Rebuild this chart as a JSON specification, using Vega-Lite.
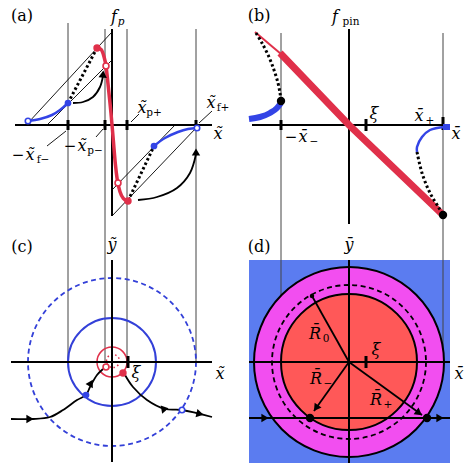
{
"$schema":"https://vega.github.io/schema/vega-lite/v6.json",
"width":474,"height":474,"padding":0,
"autosize":{"type":"fit","contains":"padding"},
"background":"white",
"config":{"view":{"stroke":null}},
"datasets":{
"R":[{"x":249,"y":260,"x2":450,"y2":463}],
"L":[
{"g":"gray","id":"v1","o":0,"x":68,"y":23},{"g":"gray","id":"v1","o":1,"x":68,"y":362},
{"g":"gray","id":"v2","o":0,"x":105,"y":29},{"g":"gray","id":"v2","o":1,"x":105,"y":362},
{"g":"gray","id":"v3","o":0,"x":127,"y":29},{"g":"gray","id":"v3","o":1,"x":127,"y":362},
{"g":"gray","id":"v4","o":0,"x":196,"y":29},{"g":"gray","id":"v4","o":1,"x":196,"y":362},
{"g":"gray","id":"v5","o":0,"x":281,"y":33},{"g":"gray","id":"v5","o":1,"x":281,"y":362},
{"g":"gray","id":"v6","o":0,"x":443,"y":33},{"g":"gray","id":"v6","o":1,"x":443,"y":362},
{"g":"axis","id":"a1","o":0,"x":15,"y":125},{"g":"axis","id":"a1","o":1,"x":212,"y":125},
{"g":"axis","id":"a2","o":0,"x":112,"y":29},{"g":"axis","id":"a2","o":1,"x":112,"y":216},
{"g":"axis","id":"b1","o":0,"x":252,"y":125},{"g":"axis","id":"b1","o":1,"x":450,"y":125},
{"g":"axis","id":"b2","o":0,"x":349,"y":29},{"g":"axis","id":"b2","o":1,"x":349,"y":224},
{"g":"axis","id":"c1","o":0,"x":11,"y":362},{"g":"axis","id":"c1","o":1,"x":212,"y":362},
{"g":"axis","id":"c2","o":0,"x":112,"y":260},{"g":"axis","id":"c2","o":1,"x":112,"y":462},
{"g":"axis","id":"d1","o":0,"x":249,"y":362},{"g":"axis","id":"d1","o":1,"x":450,"y":362},
{"g":"axis","id":"d2","o":0,"x":349,"y":260},{"g":"axis","id":"d2","o":1,"x":349,"y":463},
{"g":"tick","id":"t1","o":0,"x":68,"y":120},{"g":"tick","id":"t1","o":1,"x":68,"y":130},
{"g":"tick","id":"t2","o":0,"x":105,"y":120},{"g":"tick","id":"t2","o":1,"x":105,"y":130},
{"g":"tick","id":"t3","o":0,"x":127,"y":120},{"g":"tick","id":"t3","o":1,"x":127,"y":130},
{"g":"tick","id":"t4","o":0,"x":196,"y":120},{"g":"tick","id":"t4","o":1,"x":196,"y":130},
{"g":"tick","id":"t5","o":0,"x":281,"y":120},{"g":"tick","id":"t5","o":1,"x":281,"y":130},
{"g":"tick","id":"t6","o":0,"x":366,"y":119},{"g":"tick","id":"t6","o":1,"x":366,"y":131},
{"g":"tick","id":"t7","o":0,"x":443,"y":117},{"g":"tick","id":"t7","o":1,"x":443,"y":130},
{"g":"tick","id":"t8","o":0,"x":128,"y":356},{"g":"tick","id":"t8","o":1,"x":128,"y":368},
{"g":"tick","id":"t9","o":0,"x":366,"y":356},{"g":"tick","id":"t9","o":1,"x":366,"y":368},
{"g":"thin","id":"d1","o":0,"x":28,"y":123},{"g":"thin","id":"d1","o":1,"x":111,"y":33},
{"g":"thin","id":"d2","o":0,"x":48,"y":124},{"g":"thin","id":"d2","o":1,"x":112,"y":60},
{"g":"thin","id":"d3","o":0,"x":112,"y":190},{"g":"thin","id":"d3","o":1,"x":175,"y":125},
{"g":"thin","id":"d4","o":0,"x":112,"y":216},{"g":"thin","id":"d4","o":1,"x":197,"y":127},
{"g":"thin","id":"l1","o":0,"x":131,"y":122},{"g":"thin","id":"l1","o":1,"x":139,"y":114},
{"g":"thin","id":"l2","o":0,"x":199,"y":123},{"g":"thin","id":"l2","o":1,"x":212,"y":111},
{"g":"thin","id":"l3","o":0,"x":66,"y":131},{"g":"thin","id":"l3","o":1,"x":47,"y":146},
{"g":"thin","id":"l4","o":0,"x":103,"y":129},{"g":"thin","id":"l4","o":1,"x":96,"y":137},
{"g":"blue","id":"bl1","o":0,"x":28,"y":121},{"g":"blue","id":"bl1","o":1,"x":40,"y":119},{"g":"blue","id":"bl1","o":2,"x":52,"y":115},{"g":"blue","id":"bl1","o":3,"x":60,"y":110},{"g":"blue","id":"bl1","o":4,"x":68,"y":103},
{"g":"blue","id":"bl2","o":0,"x":154,"y":146},{"g":"blue","id":"bl2","o":1,"x":165,"y":138},{"g":"blue","id":"bl2","o":2,"x":178,"y":132},{"g":"blue","id":"bl2","o":3,"x":188,"y":129},{"g":"blue","id":"bl2","o":4,"x":197,"y":128},
{"g":"blue","id":"bl3","o":0,"x":445,"y":127},{"g":"blue","id":"bl3","o":1,"x":430,"y":130},{"g":"blue","id":"bl3","o":2,"x":422,"y":137},{"g":"blue","id":"bl3","o":3,"x":417,"y":147},{"g":"blue","id":"bl3","o":4,"x":417,"y":152},
{"g":"bluethick","id":"bt1","o":0,"x":249,"y":119},{"g":"bluethick","id":"bt1","o":1,"x":260,"y":117},{"g":"bluethick","id":"bt1","o":2,"x":270,"y":113},{"g":"bluethick","id":"bt1","o":3,"x":277,"y":108},{"g":"bluethick","id":"bt1","o":4,"x":281,"y":103},
{"g":"bluethick","id":"bt2","o":0,"x":443,"y":127},{"g":"bluethick","id":"bt2","o":1,"x":450,"y":127},
{"g":"red","id":"r1","o":0,"x":96.7,"y":47.7},{"g":"red","id":"r1","o":1,"x":101,"y":49.3},{"g":"red","id":"r1","o":2,"x":104,"y":56.7},{"g":"red","id":"r1","o":3,"x":106,"y":66},{"g":"red","id":"r1","o":4,"x":108.3,"y":86.7},{"g":"red","id":"r1","o":5,"x":111,"y":113.3},{"g":"red","id":"r1","o":6,"x":113.3,"y":140},{"g":"red","id":"r1","o":7,"x":115.3,"y":163.3},{"g":"red","id":"r1","o":8,"x":117.3,"y":180},{"g":"red","id":"r1","o":9,"x":120,"y":191.7},{"g":"red","id":"r1","o":10,"x":123.3,"y":198.3},{"g":"red","id":"r1","o":11,"x":127.7,"y":201},
{"g":"redthick","id":"rt","o":0,"x":280,"y":53},{"g":"redthick","id":"rt","o":1,"x":349,"y":125},{"g":"redthick","id":"rt","o":2,"x":443,"y":215},
{"g":"redthin","id":"rn","o":0,"x":255,"y":32},{"g":"redthin","id":"rn","o":1,"x":281,"y":54},
{"g":"dot","id":"k1","o":0,"x":68,"y":103},{"g":"dot","id":"k1","o":1,"x":97,"y":48},
{"g":"dot","id":"k2","o":0,"x":128,"y":201},{"g":"dot","id":"k2","o":1,"x":154,"y":146},
{"g":"dot","id":"k3","o":0,"x":256,"y":33},{"g":"dot","id":"k3","o":1,"x":262,"y":43},{"g":"dot","id":"k3","o":2,"x":269,"y":57},{"g":"dot","id":"k3","o":3,"x":274,"y":70},{"g":"dot","id":"k3","o":4,"x":278,"y":83},{"g":"dot","id":"k3","o":5,"x":280,"y":93},{"g":"dot","id":"k3","o":6,"x":281,"y":100},
{"g":"dot","id":"k4","o":0,"x":417,"y":152},{"g":"dot","id":"k4","o":1,"x":422,"y":173},{"g":"dot","id":"k4","o":2,"x":430,"y":193},{"g":"dot","id":"k4","o":3,"x":439,"y":208},{"g":"dot","id":"k4","o":4,"x":443,"y":215},
{"g":"arrow","id":"ar1","o":0,"x":73,"y":103},{"g":"arrow","id":"ar1","o":1,"x":83,"y":102},{"g":"arrow","id":"ar1","o":2,"x":93,"y":97},{"g":"arrow","id":"ar1","o":3,"x":100,"y":87},{"g":"arrow","id":"ar1","o":4,"x":103,"y":76},
{"g":"arrow","id":"ar2","o":0,"x":138,"y":200},{"g":"arrow","id":"ar2","o":1,"x":157,"y":197},{"g":"arrow","id":"ar2","o":2,"x":177,"y":188},{"g":"arrow","id":"ar2","o":3,"x":190,"y":173},{"g":"arrow","id":"ar2","o":4,"x":196,"y":154},
{"g":"arrow","id":"ar3","o":0,"x":11,"y":419},{"g":"arrow","id":"ar3","o":1,"x":33,"y":419},{"g":"arrow","id":"ar3","o":2,"x":50,"y":417},{"g":"arrow","id":"ar3","o":3,"x":63,"y":410},{"g":"arrow","id":"ar3","o":4,"x":77,"y":400},{"g":"arrow","id":"ar3","o":5,"x":86,"y":395},{"g":"arrow","id":"ar3","o":6,"x":90,"y":387},{"g":"arrow","id":"ar3","o":7,"x":97,"y":375},{"g":"arrow","id":"ar3","o":8,"x":103,"y":369},
{"g":"arrow","id":"ar4","o":0,"x":125,"y":375},{"g":"arrow","id":"ar4","o":1,"x":133,"y":387},{"g":"arrow","id":"ar4","o":2,"x":147,"y":400},{"g":"arrow","id":"ar4","o":3,"x":165,"y":409},{"g":"arrow","id":"ar4","o":4,"x":182,"y":410},{"g":"arrow","id":"ar4","o":5,"x":212,"y":417},
{"g":"arrow","id":"ar5","o":0,"x":249,"y":418},{"g":"arrow","id":"ar5","o":1,"x":450,"y":418},
{"g":"arrow","id":"ar6","o":0,"x":349,"y":362},{"g":"arrow","id":"ar6","o":1,"x":312,"y":296},
{"g":"arrow","id":"ar7","o":0,"x":349,"y":362},{"g":"arrow","id":"ar7","o":1,"x":314,"y":411},
{"g":"arrow","id":"ar8","o":0,"x":349,"y":362},{"g":"arrow","id":"ar8","o":1,"x":422,"y":415}
],
"C":[
{"g":"pink","x":349,"y":362,"d":190},
{"g":"redfill","x":349,"y":362,"d":136},
{"g":"blackdash","x":349,"y":362,"d":154},
{"g":"bluedash","x":112,"y":362,"d":168},
{"g":"blue","x":112,"y":362,"d":88},
{"g":"red","x":112,"y":362,"d":30},
{"g":"reddot","x":113,"y":361,"d":13}
],
"P":[
{"g":"bluefill","x":68,"y":103},{"g":"bluefill","x":154,"y":146},{"g":"bluefill","x":86,"y":395},
{"g":"blueopen","x":28,"y":121},{"g":"blueopen","x":197,"y":128},{"g":"blueopen","x":182,"y":410},
{"g":"redfill","x":97,"y":48},{"g":"redfill","x":128,"y":201},{"g":"redfill","x":123,"y":373},
{"g":"redopen","x":106,"y":66},{"g":"redopen","x":118,"y":183},{"g":"redopen","x":106,"y":367},
{"g":"blackfill","x":281,"y":101},{"g":"blackfill","x":443,"y":215},{"g":"blackfill","x":310,"y":418},{"g":"blackfill","x":427,"y":418},
{"g":"blacksmall","x":312,"y":296}
],
"A":[
{"x":30,"y":419,"a":90},{"x":91,"y":383,"a":30},{"x":165,"y":409,"a":80},{"x":200,"y":414,"a":103},
{"x":103,"y":74,"a":5},{"x":196,"y":152,"a":0},{"x":265,"y":418,"a":90},{"x":440,"y":418,"a":90},
{"x":316,"y":408,"a":215},{"x":419,"y":413,"a":126}
],
"T":[
{"g":"lab","t":"(a)","x":22,"y":16},{"g":"lab","t":"(b)","x":259,"y":16},{"g":"lab","t":"(c)","x":22,"y":247},{"g":"lab","t":"(d)","x":259,"y":247},
{"g":"m","t":"f","x":114,"y":17},{"g":"si","t":"p","x":121,"y":22},
{"g":"m","t":"x̃","x":142,"y":108},{"g":"s","t":"p+","x":154,"y":113},
{"g":"m","t":"x̃","x":211,"y":103},{"g":"s","t":"f+","x":223,"y":108},
{"g":"m","t":"x̃","x":218,"y":134},
{"g":"up","t":"−","x":18,"y":155},{"g":"m","t":"x̃","x":30,"y":155},{"g":"s","t":"f−","x":43,"y":160},
{"g":"up","t":"−","x":70,"y":146},{"g":"m","t":"x̃","x":82,"y":146},{"g":"s","t":"p−","x":95,"y":151},
{"g":"m","t":"f","x":335,"y":17},{"g":"s","t":"pin","x":351,"y":22},
{"g":"m","t":"ξ","x":374,"y":114},
{"g":"m","t":"x̄","x":419,"y":116},{"g":"s","t":"+","x":430,"y":121},
{"g":"m","t":"x̄","x":456,"y":134},
{"g":"up","t":"−","x":291,"y":137},{"g":"m","t":"x̄","x":303,"y":137},{"g":"s","t":"−","x":314,"y":142},
{"g":"m","t":"ỹ","x":112,"y":245},
{"g":"m","t":"x̃","x":220,"y":374},
{"g":"m","t":"ξ","x":136,"y":373},
{"g":"m","t":"ȳ","x":349,"y":245},
{"g":"m","t":"x̄","x":459,"y":374},
{"g":"m","t":"R̄","x":315,"y":334},{"g":"s","t":"0","x":326,"y":339},
{"g":"m","t":"ξ","x":376,"y":350},
{"g":"m","t":"R̄","x":316,"y":379},{"g":"s","t":"−","x":328,"y":384},
{"g":"m","t":"R̄","x":376,"y":400},{"g":"s","t":"+","x":388,"y":405}
]
},
"encoding":{
"x":{"field":"x","type":"quantitative","scale":{"domain":[0,474],"nice":false,"zero":false},"axis":null},
"y":{"field":"y","type":"quantitative","scale":{"domain":[0,474],"reverse":true,"nice":false,"zero":false},"axis":null}
},
"layer":[
{"data":{"name":"R"},"mark":{"type":"rect","fill":"#5b7cf0"},"encoding":{"x2":{"field":"x2"},"y2":{"field":"y2"}}},
{"data":{"name":"L"},"transform":[{"filter":"datum.g==='gray'"}],"mark":{"type":"line","stroke":"#444","strokeWidth":1},"encoding":{"detail":{"field":"id"},"order":{"field":"o"}}},
{"data":{"name":"C"},"transform":[{"filter":"datum.g==='pink'"}],"mark":{"type":"point","shape":"circle","filled":true,"fill":"#f24ef0","stroke":"black","strokeWidth":2,"opacity":1},"encoding":{"size":{"field":"d","type":"quantitative","scale":{"type":"pow","exponent":2,"domain":[0,200],"range":[0,40000]},"legend":null}}},
{"data":{"name":"C"},"transform":[{"filter":"datum.g==='redfill'"}],"mark":{"type":"point","shape":"circle","filled":true,"fill":"#ff5858","stroke":"black","strokeWidth":2,"opacity":1},"encoding":{"size":{"field":"d","type":"quantitative","scale":{"type":"pow","exponent":2,"domain":[0,200],"range":[0,40000]},"legend":null}}},
{"data":{"name":"C"},"transform":[{"filter":"datum.g==='blackdash'"}],"mark":{"type":"point","shape":"circle","filled":false,"stroke":"black","strokeWidth":1.8,"strokeDash":[5,3.5],"opacity":1},"encoding":{"size":{"field":"d","type":"quantitative","scale":{"type":"pow","exponent":2,"domain":[0,200],"range":[0,40000]},"legend":null}}},
{"data":{"name":"C"},"transform":[{"filter":"datum.g==='bluedash'"}],"mark":{"type":"point","shape":"circle","filled":false,"stroke":"#3340d8","strokeWidth":1.8,"strokeDash":[5,3.5],"opacity":1},"encoding":{"size":{"field":"d","type":"quantitative","scale":{"type":"pow","exponent":2,"domain":[0,200],"range":[0,40000]},"legend":null}}},
{"data":{"name":"C"},"transform":[{"filter":"datum.g==='blue'"}],"mark":{"type":"point","shape":"circle","filled":false,"stroke":"#3340d8","strokeWidth":2,"opacity":1},"encoding":{"size":{"field":"d","type":"quantitative","scale":{"type":"pow","exponent":2,"domain":[0,200],"range":[0,40000]},"legend":null}}},
{"data":{"name":"C"},"transform":[{"filter":"datum.g==='red'"}],"mark":{"type":"point","shape":"circle","filled":false,"stroke":"#e0304a","strokeWidth":1.5,"opacity":1},"encoding":{"size":{"field":"d","type":"quantitative","scale":{"type":"pow","exponent":2,"domain":[0,200],"range":[0,40000]},"legend":null}}},
{"data":{"name":"C"},"transform":[{"filter":"datum.g==='reddot'"}],"mark":{"type":"point","shape":"circle","filled":false,"stroke":"#e0304a","strokeWidth":1.5,"strokeDash":[1.5,2.5],"opacity":1},"encoding":{"size":{"field":"d","type":"quantitative","scale":{"type":"pow","exponent":2,"domain":[0,200],"range":[0,40000]},"legend":null}}},
{"data":{"name":"L"},"transform":[{"filter":"datum.g==='thin'"}],"mark":{"type":"line","stroke":"black","strokeWidth":0.9},"encoding":{"detail":{"field":"id"},"order":{"field":"o"}}},
{"data":{"name":"L"},"transform":[{"filter":"datum.g==='axis'"}],"mark":{"type":"line","stroke":"black","strokeWidth":2},"encoding":{"detail":{"field":"id"},"order":{"field":"o"}}},
{"data":{"name":"L"},"transform":[{"filter":"datum.g==='tick'"}],"mark":{"type":"line","stroke":"black","strokeWidth":3},"encoding":{"detail":{"field":"id"},"order":{"field":"o"}}},
{"data":{"name":"L"},"transform":[{"filter":"datum.g==='redthick'"}],"mark":{"type":"line","stroke":"#e0304a","strokeWidth":7},"encoding":{"detail":{"field":"id"},"order":{"field":"o"}}},
{"data":{"name":"L"},"transform":[{"filter":"datum.g==='redthin'"}],"mark":{"type":"line","stroke":"#e0304a","strokeWidth":2},"encoding":{"detail":{"field":"id"},"order":{"field":"o"}}},
{"data":{"name":"L"},"transform":[{"filter":"datum.g==='red'"}],"mark":{"type":"line","stroke":"#e0304a","strokeWidth":3.5,"interpolate":"monotone"},"encoding":{"detail":{"field":"id"},"order":{"field":"o"}}},
{"data":{"name":"L"},"transform":[{"filter":"datum.g==='bluethick'"}],"mark":{"type":"line","stroke":"#3344e6","strokeWidth":6,"interpolate":"monotone"},"encoding":{"detail":{"field":"id"},"order":{"field":"o"}}},
{"data":{"name":"L"},"transform":[{"filter":"datum.g==='blue'"}],"mark":{"type":"line","stroke":"#3344e6","strokeWidth":2.5,"interpolate":"catmull-rom"},"encoding":{"detail":{"field":"id"},"order":{"field":"o"}}},
{"data":{"name":"L"},"transform":[{"filter":"datum.g==='dot'"}],"mark":{"type":"line","stroke":"black","strokeWidth":3,"strokeDash":[2.5,2.5],"interpolate":"catmull-rom"},"encoding":{"detail":{"field":"id"},"order":{"field":"o"}}},
{"data":{"name":"L"},"transform":[{"filter":"datum.g==='arrow'"}],"mark":{"type":"line","stroke":"black","strokeWidth":1.8,"interpolate":"catmull-rom"},"encoding":{"detail":{"field":"id"},"order":{"field":"o"}}},
{"data":{"name":"A"},"mark":{"type":"point","shape":"triangle-up","filled":true,"fill":"black","stroke":null,"size":70,"opacity":1},"encoding":{"angle":{"field":"a","type":"quantitative","scale":{"domain":[0,360],"range":[0,360]}}}},
{"data":{"name":"P"},"transform":[{"filter":"datum.g==='bluefill'"}],"mark":{"type":"point","shape":"circle","filled":true,"fill":"#3344e6","size":45,"opacity":1},"encoding":{}},
{"data":{"name":"P"},"transform":[{"filter":"datum.g==='blueopen'"}],"mark":{"type":"point","shape":"circle","filled":true,"fill":"white","stroke":"#3344e6","strokeWidth":1.6,"size":30,"opacity":1},"encoding":{}},
{"data":{"name":"P"},"transform":[{"filter":"datum.g==='redfill'"}],"mark":{"type":"point","shape":"circle","filled":true,"fill":"#e0304a","size":55,"opacity":1},"encoding":{}},
{"data":{"name":"P"},"transform":[{"filter":"datum.g==='redopen'"}],"mark":{"type":"point","shape":"circle","filled":true,"fill":"white","stroke":"#e0304a","strokeWidth":1.6,"size":35,"opacity":1},"encoding":{}},
{"data":{"name":"P"},"transform":[{"filter":"datum.g==='blackfill'"}],"mark":{"type":"point","shape":"circle","filled":true,"fill":"black","size":70,"opacity":1},"encoding":{}},
{"data":{"name":"P"},"transform":[{"filter":"datum.g==='blacksmall'"}],"mark":{"type":"point","shape":"circle","filled":true,"fill":"black","size":20,"opacity":1},"encoding":{}},
{"data":{"name":"T"},"transform":[{"filter":"datum.g==='lab'"}],"mark":{"type":"text","font":"DejaVu Serif","fontSize":16,"align":"center","baseline":"middle","color":"black"},"encoding":{"text":{"field":"t"}}},
{"data":{"name":"T"},"transform":[{"filter":"datum.g==='up'"}],"mark":{"type":"text","font":"DejaVu Serif","fontSize":15,"align":"center","baseline":"middle","color":"black"},"encoding":{"text":{"field":"t"}}},
{"data":{"name":"T"},"transform":[{"filter":"datum.g==='m'"}],"mark":{"type":"text","font":"DejaVu Serif","fontStyle":"italic","fontSize":16,"align":"center","baseline":"middle","color":"black"},"encoding":{"text":{"field":"t"}}},
{"data":{"name":"T"},"transform":[{"filter":"datum.g==='s'"}],"mark":{"type":"text","font":"DejaVu Serif","fontSize":10.5,"align":"center","baseline":"middle","color":"black"},"encoding":{"text":{"field":"t"}}},
{"data":{"name":"T"},"transform":[{"filter":"datum.g==='si'"}],"mark":{"type":"text","font":"DejaVu Serif","fontStyle":"italic","fontSize":10.5,"align":"center","baseline":"middle","color":"black"},"encoding":{"text":{"field":"t"}}}
]
}
